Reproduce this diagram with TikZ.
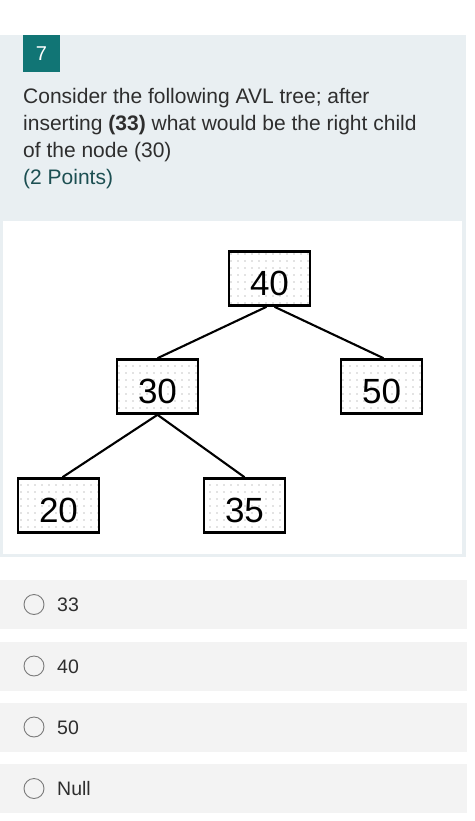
\documentclass[tikz,border=0pt]{standalone}
\usepackage{fontspec}
\setmainfont{Liberation Sans}
\usetikzlibrary{patterns.meta}
\definecolor{panel}{HTML}{E9EFF2}
\definecolor{teal7}{HTML}{117575}
\definecolor{qtext}{HTML}{2E2E2E}
\definecolor{pts}{HTML}{1C4F52}
\definecolor{opt}{HTML}{F3F3F3}
\definecolor{radio}{HTML}{7A7A7A}
\definecolor{dotc}{HTML}{8A8A8A}
\tikzset{
  treebox/.style={draw=black, line width=2.6pt, minimum width=81pt, minimum height=54pt,
    inner sep=0pt, text height=33pt, text depth=0pt, font=\fontsize{35}{35}\selectfont,
    pattern={Dots[distance=7pt, radius=0.55pt]}, pattern color=dotc},
  edge/.style={line width=2.1pt, black},
  qline/.style={anchor=base west, inner sep=0pt, text=qtext, font=\fontsize{21}{24}\selectfont},
  optbar/.style={fill=opt, draw=none},
  radiob/.style={circle, draw=radio, line width=0.9pt, minimum size=20pt, inner sep=0pt},
  opttext/.style={anchor=base west, inner sep=0pt, text=qtext, font=\fontsize{19.5}{20}\selectfont},
}
\begin{document}
\begin{tikzpicture}[x=1pt,y=-1pt]
\useasboundingbox (0,0) rectangle (474,821);
\fill[white] (0,0) rectangle (474,821);
% header panel and tree frame
\fill[panel] (0,35) rectangle (466,557);
\fill[white] (3,221) rectangle (462,554);
% question number
\node[fill=teal7, minimum width=37pt, minimum height=37pt, inner sep=0pt, text=white,
  font=\fontsize{20}{20}\selectfont] (num) at (41.5,53.5) {7};
% question text
\node[qline] (l1) at (23,104) {Consider the following AVL tree; after};
\node[qline] (l2) at (23,131) {inserting \textbf{(33)} what would be the right child};
\node[qline] (l3) at (23,158) {of the node (30)};
\node[qline, text=pts] (l4) at (23,185) {(2 Points)};
% tree
\node[treebox] (n40) at (269.5,278.5) {40};
\node[treebox] (n30) at (157.5,386.5) {30};
\node[treebox] (n50) at (381.5,386.5) {50};
\node[treebox] (n20) at (58.5,505.5) {20};
\node[treebox] (n35) at (244.5,505.5) {35};
\draw[edge] ([xshift=-3pt]n40.south) -- (n30.north);
\draw[edge] ([xshift=5pt]n40.south) -- ([xshift=2pt]n50.north);
\draw[edge] (n30.south) -- ([xshift=4pt]n20.north);
\draw[edge] (n30.south) -- (n35.north);
% options
\fill[optbar] (0,580) rectangle (467,629);
\fill[optbar] (0,642) rectangle (467,691);
\fill[optbar] (0,703) rectangle (467,752);
\fill[optbar] (0,764) rectangle (467,813);
\node[radiob] (r1) at (34,604.5) {};
\node[radiob] (r2) at (34,666) {};
\node[radiob] (r3) at (34,727) {};
\node[radiob] (r4) at (34,788.5) {};
\node[opttext] (t1) at (57,611.5) {33};
\node[opttext] (t2) at (57,673) {40};
\node[opttext] (t3) at (57,734) {50};
\node[opttext] (t4) at (57,795.5) {Null};
\end{tikzpicture}
\end{document}
